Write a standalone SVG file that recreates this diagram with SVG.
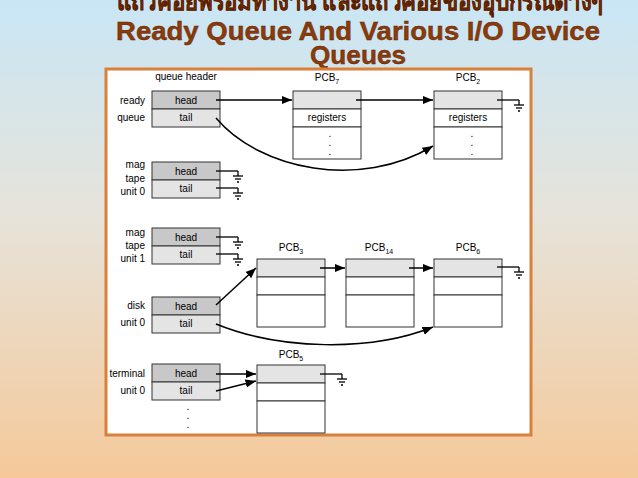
<svg xmlns="http://www.w3.org/2000/svg" width="638" height="478" viewBox="0 0 638 478">
<defs>
<linearGradient id="bg" x1="0" y1="0" x2="0" y2="1">
<stop offset="0" stop-color="#c9e6f5"/><stop offset="0.45" stop-color="#e6e3da"/><stop offset="1" stop-color="#f5c99a"/>
</linearGradient>
<marker id="ar" viewBox="0 0 10 10" refX="10" refY="5" markerWidth="7" markerHeight="7" orient="auto"><path d="M0,1 L10,5 L0,9 z" fill="#000"/></marker>
<g id="gnd"><line x1="0" y1="0" x2="22" y2="0"/><line x1="22" y1="0" x2="22" y2="5"/><line x1="17" y1="5" x2="27" y2="5"/><line x1="19" y1="8" x2="25" y2="8"/><line x1="21" y1="11" x2="23" y2="11"/></g>
</defs>
<style>
text{font-family:"Liberation Sans",Arial,sans-serif;font-size:10px;fill:#000}
.t{font-size:25px;font-weight:bold;fill:#8b3a0a;stroke:#5a2000;stroke-width:0.4}
.h{fill:#c8c8c8;stroke:#333;stroke-width:1}
.l{fill:#e4e4e4;stroke:#333;stroke-width:1}
.w{fill:#fff;stroke:#333;stroke-width:1}
.c{stroke:#000;stroke-width:1.5;fill:none}
use{stroke:#000;stroke-width:1.3}
.m{text-anchor:middle}.r{text-anchor:end}
</style>
<rect width="638" height="478" fill="url(#bg)"/>
<text class="t m" x="360" y="10" textLength="486" lengthAdjust="spacingAndGlyphs" font-family="'Liberation Sans','Noto Sans',sans-serif">แถวคอยพร้อมทำงาน และแถวคอยของอุปกรณ์ต่างๆ</text>
<text class="t m" x="358" y="40" textLength="484" lengthAdjust="spacingAndGlyphs">Ready Queue And Various I/O Device</text>
<text class="t m" x="358" y="64" textLength="96" lengthAdjust="spacingAndGlyphs">Queues</text>
<rect x="106" y="69" width="425" height="366" fill="#fff" stroke="#d9803a" stroke-width="3"/>
<text class="m" x="186" y="80">queue header</text>
<g id="ready"><text class="r" x="145" y="104">ready</text><text class="r" x="145" y="121">queue</text>
<rect class="h" x="152" y="91" width="68" height="18"/><rect class="l" x="152" y="109" width="68" height="18"/>
<text class="m" x="186" y="104">head</text><text class="m" x="186" y="121">tail</text></g>
<g id="mag0"><text class="r" x="145" y="168">mag</text><text class="r" x="145" y="182">tape</text><text class="r" x="145" y="195">unit 0</text>
<rect class="h" x="152" y="162" width="68" height="18"/><rect class="l" x="152" y="180" width="68" height="18"/>
<text class="m" x="186" y="175">head</text><text class="m" x="186" y="192">tail</text></g>
<g id="mag1"><text class="r" x="145" y="236">mag</text><text class="r" x="145" y="249">tape</text><text class="r" x="145" y="262">unit 1</text>
<rect class="h" x="152" y="228" width="68" height="18"/><rect class="l" x="152" y="246" width="68" height="18"/>
<text class="m" x="186" y="241">head</text><text class="m" x="186" y="258">tail</text></g>
<g id="disk"><text class="r" x="145" y="309">disk</text><text class="r" x="145" y="326">unit 0</text>
<rect class="h" x="152" y="297" width="68" height="18"/><rect class="l" x="152" y="315" width="68" height="18"/>
<text class="m" x="186" y="310">head</text><text class="m" x="186" y="327">tail</text></g>
<g id="term"><text class="r" x="145" y="377">terminal</text><text class="r" x="145" y="394">unit 0</text>
<rect class="h" x="152" y="364" width="68" height="18"/><rect class="l" x="152" y="382" width="68" height="18"/>
<text class="m" x="186" y="377">head</text><text class="m" x="186" y="394">tail</text>
<text class="m" x="188" y="410">.</text><text class="m" x="188" y="419">.</text><text class="m" x="188" y="428">.</text></g>
<g id="pcb7"><text class="m" x="327" y="81">PCB<tspan font-size="7" dy="3">7</tspan></text>
<rect class="l" x="293" y="91" width="68" height="18"/><rect class="w" x="293" y="109" width="68" height="18"/><rect class="w" x="293" y="127" width="68" height="32"/>
<text class="m" x="327" y="121">registers</text><text class="m" x="330" y="137">.</text><text class="m" x="330" y="146">.</text><text class="m" x="330" y="155">.</text></g>
<g id="pcb2"><text class="m" x="468" y="81">PCB<tspan font-size="7" dy="3">2</tspan></text>
<rect class="l" x="434" y="91" width="68" height="18"/><rect class="w" x="434" y="109" width="68" height="18"/><rect class="w" x="434" y="127" width="68" height="32"/>
<text class="m" x="468" y="121">registers</text><text class="m" x="472" y="137">.</text><text class="m" x="472" y="146">.</text><text class="m" x="472" y="155">.</text></g>
<g id="pcb3"><text class="m" x="291" y="251">PCB<tspan font-size="7" dy="3">3</tspan></text>
<rect class="l" x="257" y="259" width="68" height="18"/><rect class="w" x="257" y="277" width="68" height="18"/><rect class="w" x="257" y="295" width="68" height="32"/></g>
<g id="pcb14"><text class="m" x="379" y="251">PCB<tspan font-size="7" dy="3">14</tspan></text>
<rect class="l" x="346" y="259" width="68" height="18"/><rect class="w" x="346" y="277" width="68" height="18"/><rect class="w" x="346" y="295" width="68" height="32"/></g>
<g id="pcb6"><text class="m" x="468" y="251">PCB<tspan font-size="7" dy="3">6</tspan></text>
<rect class="l" x="434" y="259" width="68" height="18"/><rect class="w" x="434" y="277" width="68" height="18"/><rect class="w" x="434" y="295" width="68" height="32"/></g>
<g id="pcb5"><text class="m" x="291" y="358">PCB<tspan font-size="7" dy="3">5</tspan></text>
<rect class="l" x="257" y="365" width="68" height="18"/><rect class="w" x="257" y="383" width="68" height="18"/><rect class="w" x="257" y="401" width="68" height="32"/></g>
<g id="connectors">
<path class="c" d="M216,100 H292" marker-end="url(#ar)"/>
<path class="c" d="M356,100 H433" marker-end="url(#ar)"/>
<path class="c" d="M216,118 C260,170 360,190 433,146" marker-end="url(#ar)"/>
<path class="c" d="M216,305 L256,268" marker-end="url(#ar)"/>
<path class="c" d="M320,268 H345" marker-end="url(#ar)"/>
<path class="c" d="M409,268 H433" marker-end="url(#ar)"/>
<path class="c" d="M216,324 C280,350 370,352 433,327" marker-end="url(#ar)"/>
<path class="c" d="M216,374 H256" marker-end="url(#ar)"/>
<path class="c" d="M216,391 L256,381" marker-end="url(#ar)"/>
<use href="#gnd" x="497" y="100"/>
<use href="#gnd" x="216" y="171"/><use href="#gnd" x="216" y="188"/>
<use href="#gnd" x="216" y="237"/><use href="#gnd" x="216" y="254"/>
<use href="#gnd" x="497" y="267"/>
<use href="#gnd" x="320" y="374"/>
</g>
</svg>
